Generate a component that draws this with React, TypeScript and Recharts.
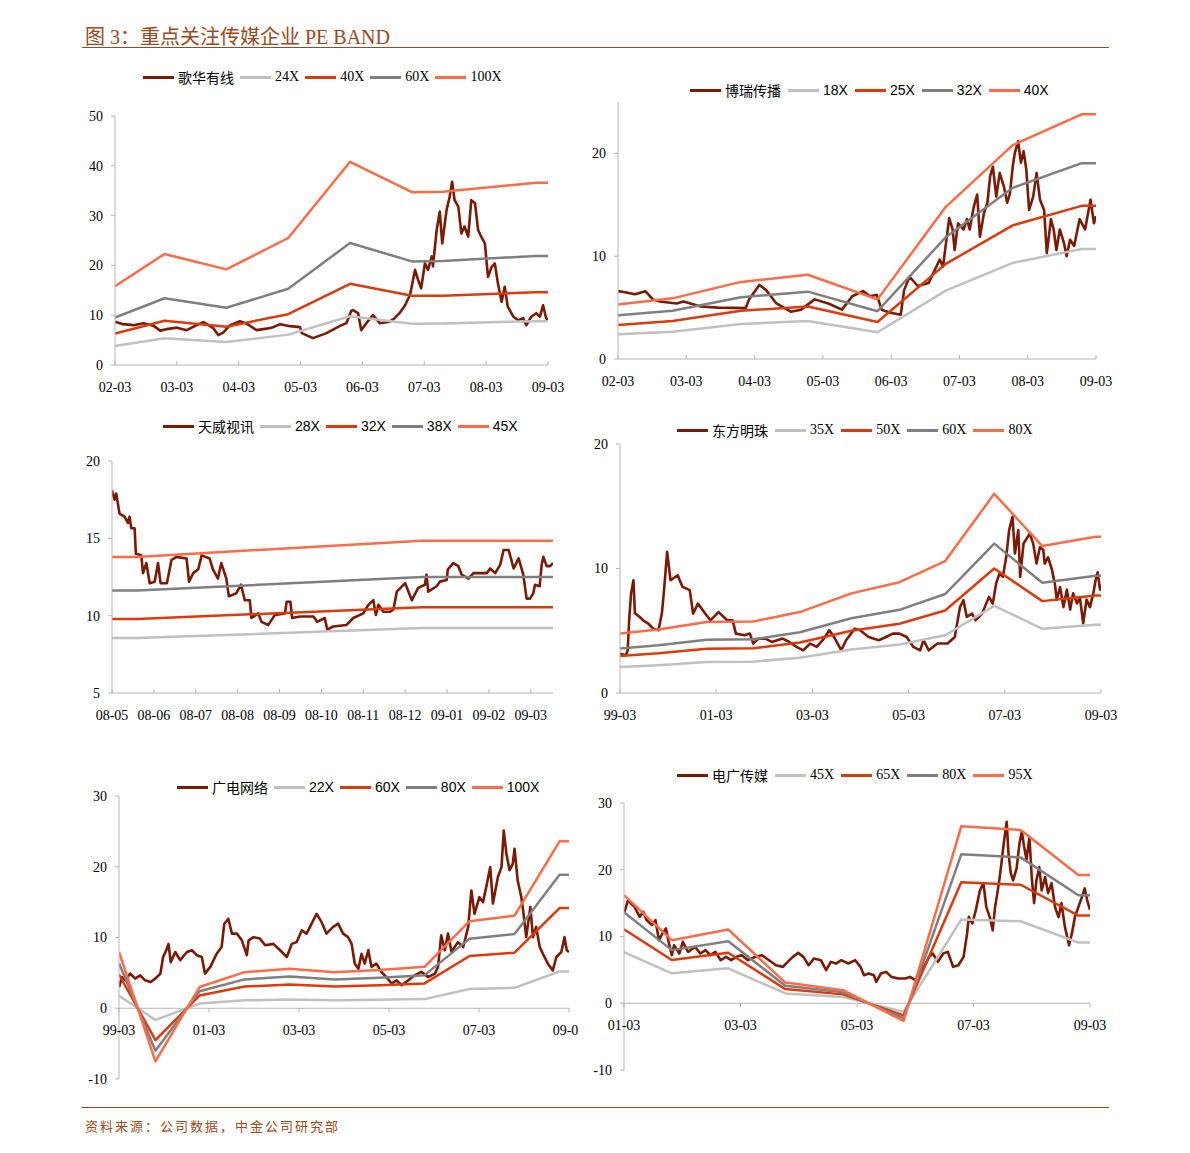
import React from 'react';
import { LineChart, Line, XAxis, YAxis, ReferenceLine } from 'recharts';

type Pt = [number, number];

// ---------- colours ----------
const C_PRICE = '#7B1A04';
const C_LO = '#C0C0C0';
const C_MID = '#DC3A0C';
const C_HI = '#7F7F7F';
const C_TOP = '#FF6B47';
const C_AXIS = '#B5B5B5';
const C_BROWN = '#9A4A22';

// ---------- Panel 1: 歌华有线 ----------
const p1TickVals = [0, 1, 2, 3, 4, 5, 6, 7];
const p1TickLabels = ['02-03', '03-03', '04-03', '05-03', '06-03', '07-03', '08-03', '09-03'];
const p1Legend = ['歌华有线', '24X', '40X', '60X', '100X'];
const p1Price: Pt[] = [[0,8.7],[0.13,8.2],[0.3,8.0],[0.46,8.4],[0.62,7.9],[0.73,6.9],[0.83,7.2],[1.0,7.5],[1.16,7.0],[1.32,8.0],[1.43,8.6],[1.59,7.4],[1.67,6.0],[1.75,6.5],[1.86,8.0],[2.02,8.8],[2.13,8.3],[2.29,7.0],[2.45,7.3],[2.56,7.6],[2.67,8.2],[2.83,7.8],[2.99,7.6],[3.02,6.4],[3.2,5.4],[3.42,6.4],[3.63,7.8],[3.74,8.4],[3.82,10.9],[3.85,11.0],[3.93,10.4],[3.98,7.0],[4.07,8.5],[4.17,10.0],[4.28,8.4],[4.44,8.7],[4.52,9.4],[4.6,10.4],[4.69,12.0],[4.77,14.1],[4.85,19.1],[4.9,17.1],[4.95,15.4],[5.01,20.4],[5.06,19.1],[5.12,21.8],[5.14,19.8],[5.2,27.1],[5.25,30.8],[5.29,24.4],[5.36,31.1],[5.41,33.8],[5.45,36.8],[5.49,33.1],[5.55,31.8],[5.6,26.4],[5.65,27.8],[5.71,25.8],[5.76,33.1],[5.82,32.5],[5.87,27.1],[5.92,25.8],[5.98,24.4],[6.03,17.7],[6.09,19.7],[6.14,20.4],[6.19,16.4],[6.25,12.7],[6.3,15.7],[6.35,11.7],[6.44,9.7],[6.52,9.0],[6.6,9.4],[6.65,8.0],[6.73,9.7],[6.81,10.4],[6.87,9.7],[6.92,12.0],[6.97,9.4],[7.0,9.0]];
const p1B24: Pt[] = [[0,3.8],[0.8,5.35],[1.8,4.6],[2.8,6.1],[3.8,9.8],[4.8,8.3],[5.3,8.35],[6.8,8.8],[7,8.8]];
const p1B40: Pt[] = [[0,6.3],[0.8,8.9],[1.8,7.7],[2.8,10.2],[3.8,16.3],[4.8,13.9],[5.3,13.9],[6.8,14.6],[7,14.6]];
const p1B60: Pt[] = [[0,9.5],[0.8,13.4],[1.8,11.5],[2.8,15.3],[3.8,24.5],[4.8,20.8],[5.3,20.9],[6.8,21.9],[7,21.9]];
const p1B100: Pt[] = [[0,15.8],[0.8,22.3],[1.8,19.2],[2.8,25.5],[3.8,40.8],[4.8,34.7],[5.3,34.8],[6.8,36.6],[7,36.6]];

// ---------- Panel 2: 博瑞传播 ----------
const p2TickVals = [0, 1, 2, 3, 4, 5, 6, 7];
const p2TickLabels = ['02-03', '03-03', '04-03', '05-03', '06-03', '07-03', '08-03', '09-03'];
const p2Legend = ['博瑞传播', '18X', '25X', '32X', '40X'];
const p2Price: Pt[] = [[0,6.6],[0.1,6.5],[0.25,6.3],[0.4,6.6],[0.51,5.8],[0.61,5.6],[0.86,5.4],[0.96,5.6],[1.21,5.1],[1.46,5.0],[1.87,4.95],[1.92,5.8],[2.07,7.2],[2.17,6.7],[2.32,5.4],[2.53,4.6],[2.68,4.8],[2.88,5.8],[3.08,5.4],[3.28,4.8],[3.43,6.1],[3.59,6.6],[3.69,6.1],[3.79,6.25],[3.86,4.8],[3.99,4.5],[4.14,4.3],[4.19,6.7],[4.27,8.0],[4.39,7.1],[4.55,7.4],[4.71,9.66],[4.76,9.0],[4.85,13.7],[4.9,12.6],[4.93,10.6],[4.98,13.2],[5.06,12.6],[5.11,13.6],[5.15,12.6],[5.21,14.8],[5.26,16.0],[5.3,11.9],[5.36,14.2],[5.41,15.2],[5.45,17.8],[5.49,18.7],[5.54,15.8],[5.59,18.1],[5.65,16.8],[5.7,15.2],[5.74,16.1],[5.78,18.7],[5.81,20.0],[5.86,21.2],[5.9,19.1],[5.94,20.2],[5.98,18.4],[6.02,14.5],[6.08,15.8],[6.13,18.1],[6.18,15.5],[6.24,14.5],[6.28,10.3],[6.34,13.6],[6.38,12.6],[6.42,10.6],[6.47,12.6],[6.53,11.3],[6.57,10.0],[6.62,11.6],[6.68,11.0],[6.72,12.3],[6.76,13.6],[6.84,12.6],[6.92,15.5],[6.97,13.2],[7.0,13.9]];
const p2B18: Pt[] = [[0,2.4],[0.8,2.65],[1.8,3.4],[2.78,3.7],[3.8,2.6],[4.8,6.65],[5.78,9.35],[6.79,10.7],[7,10.7]];
const p2B25: Pt[] = [[0,3.3],[0.8,3.7],[1.8,4.7],[2.78,5.1],[3.8,3.6],[4.8,9.25],[5.78,13.0],[6.79,14.9],[7,14.9]];
const p2B32: Pt[] = [[0,4.25],[0.8,4.7],[1.8,6.0],[2.78,6.55],[3.8,4.65],[4.8,11.85],[5.78,16.65],[6.79,19.05],[7,19.05]];
const p2B40: Pt[] = [[0,5.3],[0.8,5.9],[1.8,7.5],[2.78,8.2],[3.8,5.8],[4.8,14.8],[5.78,20.8],[6.79,23.8],[7,23.8]];

// ---------- Panel 3: 天威视讯 ----------
const p3TickVals = [0, 1, 2, 3, 4, 5, 6, 7, 8, 9, 10];
const p3TickLabels = ['08-05', '08-06', '08-07', '08-08', '08-09', '08-10', '08-11', '08-12', '09-01', '09-02', '09-03'];
const p3Legend = ['天威视讯', '28X', '32X', '38X', '45X'];
const p3Price: Pt[] = [[0,18.1],[0.06,17.5],[0.1,17.9],[0.18,16.6],[0.3,16.4],[0.38,16.0],[0.42,16.4],[0.46,15.65],[0.54,15.65],[0.57,14.0],[0.7,13.9],[0.74,12.75],[0.82,13.4],[0.9,12.1],[1.02,12.2],[1.1,13.4],[1.16,12.1],[1.31,12.1],[1.42,13.6],[1.54,13.8],[1.78,13.7],[1.84,12.2],[1.94,12.75],[2.06,13.0],[2.14,13.9],[2.33,13.7],[2.41,13.0],[2.53,12.4],[2.61,13.4],[2.73,12.4],[2.79,11.25],[2.97,11.45],[3.08,12.0],[3.17,11.0],[3.29,11.0],[3.33,9.85],[3.49,10.15],[3.57,9.6],[3.73,9.4],[3.89,10.05],[4.13,10.15],[4.17,10.9],[4.26,10.9],[4.3,9.85],[4.49,9.95],[4.81,9.95],[4.9,9.6],[5.08,9.85],[5.14,9.1],[5.28,9.3],[5.6,9.4],[5.76,9.85],[6.0,10.15],[6.12,10.7],[6.24,11.0],[6.3,10.05],[6.36,10.7],[6.48,10.25],[6.64,10.25],[6.72,10.4],[6.8,11.55],[7.0,12.1],[7.08,11.55],[7.16,11.0],[7.31,11.8],[7.47,12.0],[7.51,12.65],[7.55,11.55],[7.75,11.9],[7.83,12.2],[7.99,12.3],[8.02,13.0],[8.15,13.4],[8.27,13.2],[8.35,12.65],[8.51,12.4],[8.63,12.75],[8.95,12.75],[9.03,13.05],[9.15,12.75],[9.27,13.3],[9.35,14.25],[9.47,14.25],[9.59,13.05],[9.71,13.7],[9.82,12.65],[9.9,11.1],[9.98,11.1],[10.06,11.45],[10.1,12.0],[10.21,11.9],[10.26,13.3],[10.3,13.8],[10.38,13.2],[10.46,13.2],[10.53,13.4]];
const p3B28: Pt[] = [[0,8.55],[0.6,8.55],[7.4,9.2],[10.53,9.2]];
const p3B32: Pt[] = [[0,9.78],[0.6,9.78],[7.4,10.55],[10.53,10.55]];
const p3B38: Pt[] = [[0,11.62],[0.6,11.62],[7.4,12.5],[10.53,12.5]];
const p3B45: Pt[] = [[0,13.8],[0.6,13.8],[7.4,14.85],[10.53,14.85]];

// ---------- Panel 4: 东方明珠 ----------
const p4TickVals = [0, 2, 4, 6, 8, 10];
const p4TickLabels = ['99-03', '01-03', '03-03', '05-03', '07-03', '09-03'];
const p4Legend = ['东方明珠', '35X', '50X', '60X', '80X'];
const p4Price: Pt[] = [[0,3.16],[0.12,3.03],[0.16,3.43],[0.19,5.84],[0.23,8.0],[0.28,9.06],[0.31,6.4],[0.41,6.1],[0.48,5.84],[0.59,5.58],[0.69,5.17],[0.8,5.04],[0.87,6.38],[0.91,8.0],[0.98,11.34],[1.05,9.06],[1.2,9.46],[1.3,8.52],[1.45,8.26],[1.52,6.38],[1.62,7.18],[1.77,6.38],[1.88,5.84],[2.05,6.5],[2.23,5.84],[2.34,5.84],[2.41,4.77],[2.59,4.64],[2.7,4.77],[2.77,3.97],[2.88,4.37],[3.02,4.37],[3.16,4.1],[3.38,4.37],[3.52,4.1],[3.67,3.7],[3.81,3.43],[3.95,3.97],[4.09,3.7],[4.24,4.37],[4.35,5.04],[4.45,4.5],[4.6,3.43],[4.7,4.24],[4.88,5.17],[4.99,5.04],[5.17,4.5],[5.38,4.24],[5.53,4.5],[5.67,4.77],[5.81,4.77],[5.96,4.5],[6.1,3.7],[6.24,3.43],[6.31,4.24],[6.42,3.43],[6.6,3.97],[6.81,3.97],[6.96,4.5],[7.07,6.92],[7.14,7.45],[7.21,6.11],[7.32,6.38],[7.39,5.84],[7.53,6.38],[7.67,7.72],[7.75,7.18],[7.82,8.8],[7.89,9.6],[7.96,9.33],[8.03,10.94],[8.09,13.08],[8.16,14.16],[8.21,11.2],[8.28,13.08],[8.32,9.33],[8.39,12.01],[8.52,12.8],[8.59,12.0],[8.66,10.4],[8.73,11.7],[8.8,11.5],[8.83,10.4],[8.9,10.9],[8.98,9.9],[9.04,8.8],[9.08,7.5],[9.15,8.5],[9.22,6.9],[9.29,8.3],[9.36,6.7],[9.42,8.0],[9.5,7.2],[9.56,7.7],[9.63,5.6],[9.7,7.5],[9.77,6.9],[9.84,8.0],[9.89,9.1],[9.93,9.7],[9.98,8.3],[10.0,8.7]];
const p4B35: Pt[] = [[0,2.09],[0.8,2.23],[1.8,2.49],[2.77,2.52],[3.74,2.84],[4.81,3.5],[5.81,3.89],[6.76,4.64],[7.78,7.0],[8.78,5.16],[9.89,5.49],[10,5.49]];
const p4B50: Pt[] = [[0,2.98],[0.8,3.19],[1.8,3.56],[2.77,3.59],[3.74,4.06],[4.81,5.0],[5.81,5.56],[6.76,6.63],[7.78,10.0],[8.78,7.38],[9.89,7.84],[10,7.84]];
const p4B60: Pt[] = [[0,3.58],[0.8,3.83],[1.8,4.28],[2.77,4.31],[3.74,4.88],[4.81,6.0],[5.81,6.68],[6.76,7.95],[7.78,12.0],[8.78,8.85],[9.89,9.41],[10,9.41]];
const p4B80: Pt[] = [[0,4.77],[0.8,5.1],[1.8,5.7],[2.77,5.75],[3.74,6.5],[4.81,8.0],[5.81,8.9],[6.76,10.6],[7.78,16.0],[8.78,11.8],[9.89,12.55],[10,12.55]];

// ---------- Panel 5: 广电网络 ----------
const p5TickVals = [0, 2, 4, 6, 8, 10];
const p5TickLabels = ['99-03', '01-03', '03-03', '05-03', '07-03', '09-03'];
const p5Legend = ['广电网络', '22X', '60X', '80X', '100X'];
const p5Price: Pt[] = [[0,3.0],[0.07,4.4],[0.14,3.95],[0.25,4.9],[0.36,4.2],[0.47,4.65],[0.58,3.95],[0.7,3.7],[0.81,4.2],[0.92,4.9],[0.98,7.25],[1.05,8.2],[1.1,9.1],[1.15,6.5],[1.25,7.95],[1.36,6.8],[1.51,7.95],[1.62,8.2],[1.73,7.5],[1.84,7.25],[1.91,4.9],[2.03,5.85],[2.17,7.7],[2.28,8.65],[2.34,11.95],[2.43,12.65],[2.51,10.55],[2.62,10.55],[2.73,9.6],[2.84,7.5],[2.88,9.6],[2.99,10.05],[3.13,9.85],[3.25,8.9],[3.43,9.1],[3.58,8.2],[3.73,7.25],[3.84,9.1],[3.95,9.35],[4.06,11.0],[4.17,10.55],[4.28,11.95],[4.39,13.35],[4.5,12.2],[4.61,10.55],[4.76,11.5],[4.87,11.95],[4.98,10.55],[5.09,10.05],[5.17,9.1],[5.24,6.3],[5.32,5.6],[5.39,7.7],[5.46,6.3],[5.54,8.2],[5.61,5.85],[5.72,6.3],[5.83,5.15],[5.94,4.4],[6.06,3.5],[6.17,3.95],[6.28,3.25],[6.43,3.95],[6.57,4.65],[6.72,5.15],[6.87,4.4],[7.02,4.9],[7.09,5.85],[7.16,10.3],[7.24,8.2],[7.31,10.55],[7.39,7.95],[7.53,9.35],[7.65,8.65],[7.76,11.5],[7.83,16.65],[7.9,13.35],[8.01,15.7],[8.09,15.0],[8.16,17.1],[8.25,19.95],[8.31,14.8],[8.42,18.55],[8.5,19.95],[8.55,25.1],[8.61,21.8],[8.68,19.5],[8.75,20.4],[8.79,22.55],[8.86,18.05],[8.94,15.7],[8.98,13.85],[9.05,10.05],[9.14,14.3],[9.2,10.05],[9.27,11.5],[9.35,8.65],[9.42,7.7],[9.53,6.3],[9.64,5.35],[9.72,7.25],[9.83,7.95],[9.9,10.05],[9.95,8.2],[10.0,7.95]];
const p5B22: Pt[] = [[0,1.75],[0.81,-1.65],[1.79,0.66],[2.79,1.12],[3.79,1.23],[4.79,1.12],[5.79,1.19],[6.79,1.29],[7.79,2.71],[8.79,2.88],[9.79,5.19],[10,5.19]];
const p5B60: Pt[] = [[0,4.77],[0.81,-4.5],[1.79,1.8],[2.79,3.06],[3.79,3.36],[4.79,3.06],[5.79,3.24],[6.79,3.51],[7.79,7.38],[8.79,7.86],[9.79,14.16],[10,14.16]];
const p5B80: Pt[] = [[0,6.36],[0.81,-6.0],[1.79,2.4],[2.79,4.08],[3.79,4.48],[4.79,4.08],[5.79,4.32],[6.79,4.68],[7.79,9.84],[8.79,10.48],[9.79,18.88],[10,18.88]];
const p5B100: Pt[] = [[0,7.95],[0.81,-7.5],[1.79,3.0],[2.79,5.1],[3.79,5.6],[4.79,5.1],[5.79,5.4],[6.79,5.85],[7.79,12.3],[8.79,13.1],[9.79,23.6],[10,23.6]];

// ---------- Panel 6: 电广传媒 ----------
const p6TickVals = [0, 2, 4, 6, 8];
const p6TickLabels = ['01-03', '03-03', '05-03', '07-03', '09-03'];
const p6Legend = ['电广传媒', '45X', '65X', '80X', '95X'];
const p6Price: Pt[] = [[0,13.45],[0.07,15.45],[0.12,14.95],[0.18,14.45],[0.27,12.95],[0.33,13.7],[0.39,12.45],[0.48,11.7],[0.54,12.45],[0.6,9.45],[0.66,10.45],[0.72,11.2],[0.76,9.45],[0.82,7.2],[0.86,8.7],[0.95,7.45],[1.01,9.2],[1.1,7.7],[1.22,8.45],[1.31,7.45],[1.4,7.95],[1.48,7.2],[1.57,7.7],[1.66,6.45],[1.75,6.95],[1.84,6.45],[1.93,6.95],[2.02,7.2],[2.13,6.45],[2.25,6.95],[2.37,7.2],[2.49,6.45],[2.61,5.7],[2.73,5.45],[2.81,6.2],[2.9,6.95],[2.99,7.55],[3.08,6.95],[3.17,5.7],[3.26,6.7],[3.38,6.45],[3.47,4.95],[3.55,6.2],[3.64,5.95],[3.73,6.45],[3.85,5.95],[3.97,6.45],[4.06,5.45],[4.12,4.2],[4.2,4.45],[4.29,4.2],[4.33,3.2],[4.41,4.45],[4.5,4.7],[4.59,3.95],[4.71,3.7],[4.83,3.7],[4.91,3.95],[5.0,3.45],[5.06,4.45],[5.15,5.45],[5.24,6.95],[5.3,7.45],[5.39,6.2],[5.48,7.45],[5.56,7.7],[5.65,5.45],[5.74,5.7],[5.83,6.95],[5.89,10.45],[5.92,12.95],[5.98,11.95],[6.04,13.95],[6.11,16.9],[6.17,18.0],[6.22,14.4],[6.28,12.9],[6.33,10.9],[6.37,14.4],[6.41,16.5],[6.45,18.9],[6.48,21.0],[6.52,24.0],[6.57,27.2],[6.6,22.5],[6.64,19.5],[6.68,18.4],[6.74,20.2],[6.79,24.0],[6.83,25.7],[6.87,23.4],[6.91,21.5],[6.96,24.9],[7.0,18.9],[7.04,15.0],[7.08,18.4],[7.13,20.4],[7.17,16.9],[7.23,18.9],[7.28,16.5],[7.34,18.0],[7.4,14.4],[7.46,12.9],[7.51,15.0],[7.57,11.4],[7.61,9.9],[7.64,8.7],[7.69,10.5],[7.74,12.9],[7.8,14.4],[7.86,15.9],[7.91,17.2],[7.95,15.5],[8.0,14.0]];
const p6B45: Pt[] = [[0,7.67],[0.82,4.48],[1.79,5.23],[2.77,1.47],[3.76,0.92],[4.8,-1.25],[5.79,12.55],[6.81,12.29],[7.8,9.09],[8,9.09]];
const p6B65: Pt[] = [[0,11.08],[0.82,6.47],[1.79,7.56],[2.77,2.12],[3.76,1.33],[4.8,-1.81],[5.79,18.13],[6.81,17.75],[7.8,13.14],[8,13.14]];
const p6B80: Pt[] = [[0,13.64],[0.82,7.96],[1.79,9.3],[2.77,2.61],[3.76,1.64],[4.8,-2.23],[5.79,22.31],[6.81,21.85],[7.8,16.17],[8,16.17]];
const p6B95: Pt[] = [[0,16.2],[0.82,9.45],[1.79,11.05],[2.77,3.1],[3.76,1.95],[4.8,-2.65],[5.79,26.5],[6.81,25.95],[7.8,19.2],[8,19.2]];

// ---------- layout config ----------
const SERIF = "'Liberation Serif', 'Noto Sans CJK SC', serif";
const SANS = "'Liberation Sans', 'Noto Sans CJK SC', sans-serif";
const COLORS = [C_PRICE, C_LO, C_MID, C_HI, C_TOP];

type PanelCfg = {
  plot: { l: number; r: number; t: number; b: number };
  mr: number;
  xDomain: [number, number];
  xTickVals: number[];
  xTickLabels: string[];
  yDomain: [number, number];
  yTicks: number[];
  zeroAxis: boolean;
  series: Pt[][];
  legendLabels: string[];
  legend: { x: number; y: number; sans: boolean; gap: number };
};

const panels: PanelCfg[] = [
  { plot: { l: 115, r: 548, t: 116, b: 365 }, mr: 22, xDomain: [0, 7], xTickVals: p1TickVals, xTickLabels: p1TickLabels,
    yDomain: [0, 50], yTicks: [0, 10, 20, 30, 40, 50], zeroAxis: false,
    series: [p1Price, p1B24, p1B40, p1B60, p1B100], legendLabels: p1Legend, legend: { x: 143, y: 77, sans: false, gap: 6 } },
  { plot: { l: 618, r: 1096, t: 102, b: 359 }, mr: 22, xDomain: [0, 7], xTickVals: p2TickVals, xTickLabels: p2TickLabels,
    yDomain: [0, 25], yTicks: [0, 10, 20], zeroAxis: false,
    series: [p2Price, p2B18, p2B25, p2B32, p2B40], legendLabels: p2Legend, legend: { x: 690, y: 90, sans: true, gap: 7 } },
  { plot: { l: 112, r: 553, t: 461, b: 693 }, mr: 20, xDomain: [0, 10.53], xTickVals: p3TickVals, xTickLabels: p3TickLabels,
    yDomain: [5, 20], yTicks: [5, 10, 15, 20], zeroAxis: false,
    series: [p3Price, p3B28, p3B32, p3B38, p3B45], legendLabels: p3Legend, legend: { x: 163, y: 426, sans: true, gap: 6 } },
  { plot: { l: 620, r: 1101, t: 444, b: 693 }, mr: 22, xDomain: [0, 10], xTickVals: p4TickVals, xTickLabels: p4TickLabels,
    yDomain: [0, 20], yTicks: [0, 10, 20], zeroAxis: false,
    series: [p4Price, p4B35, p4B50, p4B60, p4B80], legendLabels: p4Legend, legend: { x: 677, y: 430, sans: false, gap: 7 } },
  { plot: { l: 119, r: 569, t: 796, b: 1079 }, mr: 9, xDomain: [0, 10], xTickVals: p5TickVals, xTickLabels: p5TickLabels,
    yDomain: [-10, 30], yTicks: [-10, 0, 10, 20, 30], zeroAxis: true,
    series: [p5Price, p5B22, p5B60, p5B80, p5B100], legendLabels: p5Legend, legend: { x: 177, y: 787, sans: true, gap: 6 } },
  { plot: { l: 624, r: 1090, t: 803, b: 1070 }, mr: 24, xDomain: [0, 8], xTickVals: p6TickVals, xTickLabels: p6TickLabels,
    yDomain: [-10, 30], yTicks: [-10, 0, 10, 20, 30], zeroAxis: true,
    series: [p6Price, p6B45, p6B65, p6B80, p6B95], legendLabels: p6Legend, legend: { x: 677, y: 775, sans: false, gap: 7 } },
];

const toObj = (arr: Pt[]) => arr.map(([t, v]) => ({ t, v }));

const YW = 44;
const MT = 10;
const XH = 32;

function Legend({ cfg }: { cfg: PanelCfg }) {
  const font = cfg.legend.sans ? SANS : SERIF;
  return (
    <div style={{ position: 'absolute', left: cfg.legend.x, top: cfg.legend.y - 10, height: 20, display: 'flex', alignItems: 'center', fontFamily: font, fontSize: 14, color: '#000', whiteSpace: 'nowrap' }}>
      {cfg.legendLabels.map((lab, i) => (
        <div key={i} style={{ display: 'flex', alignItems: 'center', marginRight: cfg.legend.gap }}>
          <div style={{ width: 31, height: 3, background: COLORS[i], marginRight: 4 }} />
          <span style={{ fontFamily: i === 0 ? SERIF : font }}>{lab}</span>
        </div>
      ))}
    </div>
  );
}

function Panel({ cfg }: { cfg: PanelCfg }) {
  const left = cfg.plot.l - YW;
  const top = cfg.plot.t - MT;
  const width = cfg.plot.r - left + cfg.mr;
  const height = cfg.plot.b - top + XH;
  const plotH = cfg.plot.b - cfg.plot.t;
  const shift = cfg.zeroAxis ? (plotH * (0 - cfg.yDomain[0])) / (cfg.yDomain[1] - cfg.yDomain[0]) : 0;
  const XTick = (props: any) => {
    const { x, y, payload } = props;
    const idx = cfg.xTickVals.indexOf(payload.value);
    const ay = y - shift;
    return (
      <g>
        <line x1={x} x2={x} y1={ay} y2={cfg.zeroAxis ? ay + 4 : ay - 4} stroke={C_AXIS} strokeWidth={1} />
        <text x={x} y={ay + 27} textAnchor="middle" fontFamily={SERIF} fontSize={14} fill="#000">
          {idx >= 0 ? cfg.xTickLabels[idx] : ''}
        </text>
      </g>
    );
  };
  return (
    <div style={{ position: 'absolute', left, top, width, height }}>
      <LineChart width={width} height={height} margin={{ top: MT, right: cfg.mr, bottom: 0, left: 0 }}>
        <XAxis type="number" dataKey="t" domain={cfg.xDomain} ticks={cfg.xTickVals} allowDataOverflow
          height={XH} axisLine={cfg.zeroAxis ? false : { stroke: C_AXIS }} tickLine={false} tickSize={0} tickMargin={0}
          tick={XTick} interval={0} />
        <YAxis type="number" domain={cfg.yDomain} ticks={cfg.yTicks} allowDataOverflow width={YW}
          axisLine={{ stroke: C_AXIS }} tickLine={{ stroke: C_AXIS }} tickSize={4} tickMargin={8}
          tick={{ fontFamily: SERIF, fontSize: 14, fill: '#000' }} interval={0} />
        {cfg.zeroAxis && <ReferenceLine y={0} stroke={C_AXIS} strokeWidth={1} />}
        {cfg.series.map((s, i) => (
          <Line key={i} data={toObj(s)} dataKey="v" type="linear" stroke={COLORS[i]}
            strokeWidth={i === 0 ? 2.6 : 2.5} strokeLinejoin="round" dot={false} activeDot={false} isAnimationActive={false} />
        ))}
      </LineChart>
    </div>
  );
}

export default function App() {
  return (
    <div style={{ position: 'absolute', left: 0, top: 0, width: 1190, height: 1153, background: '#fff' }}>
      <div style={{ position: 'absolute', left: 85, top: 21, fontFamily: SERIF, fontSize: 20, color: C_BROWN, whiteSpace: 'nowrap' }}>
        图 3：重点关注传媒企业 PE BAND
      </div>
      <div style={{ position: 'absolute', left: 82, top: 47, width: 1027, height: 1, background: C_BROWN }} />
      {panels.map((p, i) => (
        <React.Fragment key={i}>
          <Panel cfg={p} />
          <Legend cfg={p} />
        </React.Fragment>
      ))}
      <div style={{ position: 'absolute', left: 82, top: 1107, width: 1027, height: 1, background: C_BROWN }} />
      <div style={{ position: 'absolute', left: 85, top: 1116, fontFamily: SERIF, fontSize: 13, letterSpacing: 2, color: C_BROWN, whiteSpace: 'nowrap' }}>
        资料来源：公司数据，中金公司研究部
      </div>
    </div>
  );
}
